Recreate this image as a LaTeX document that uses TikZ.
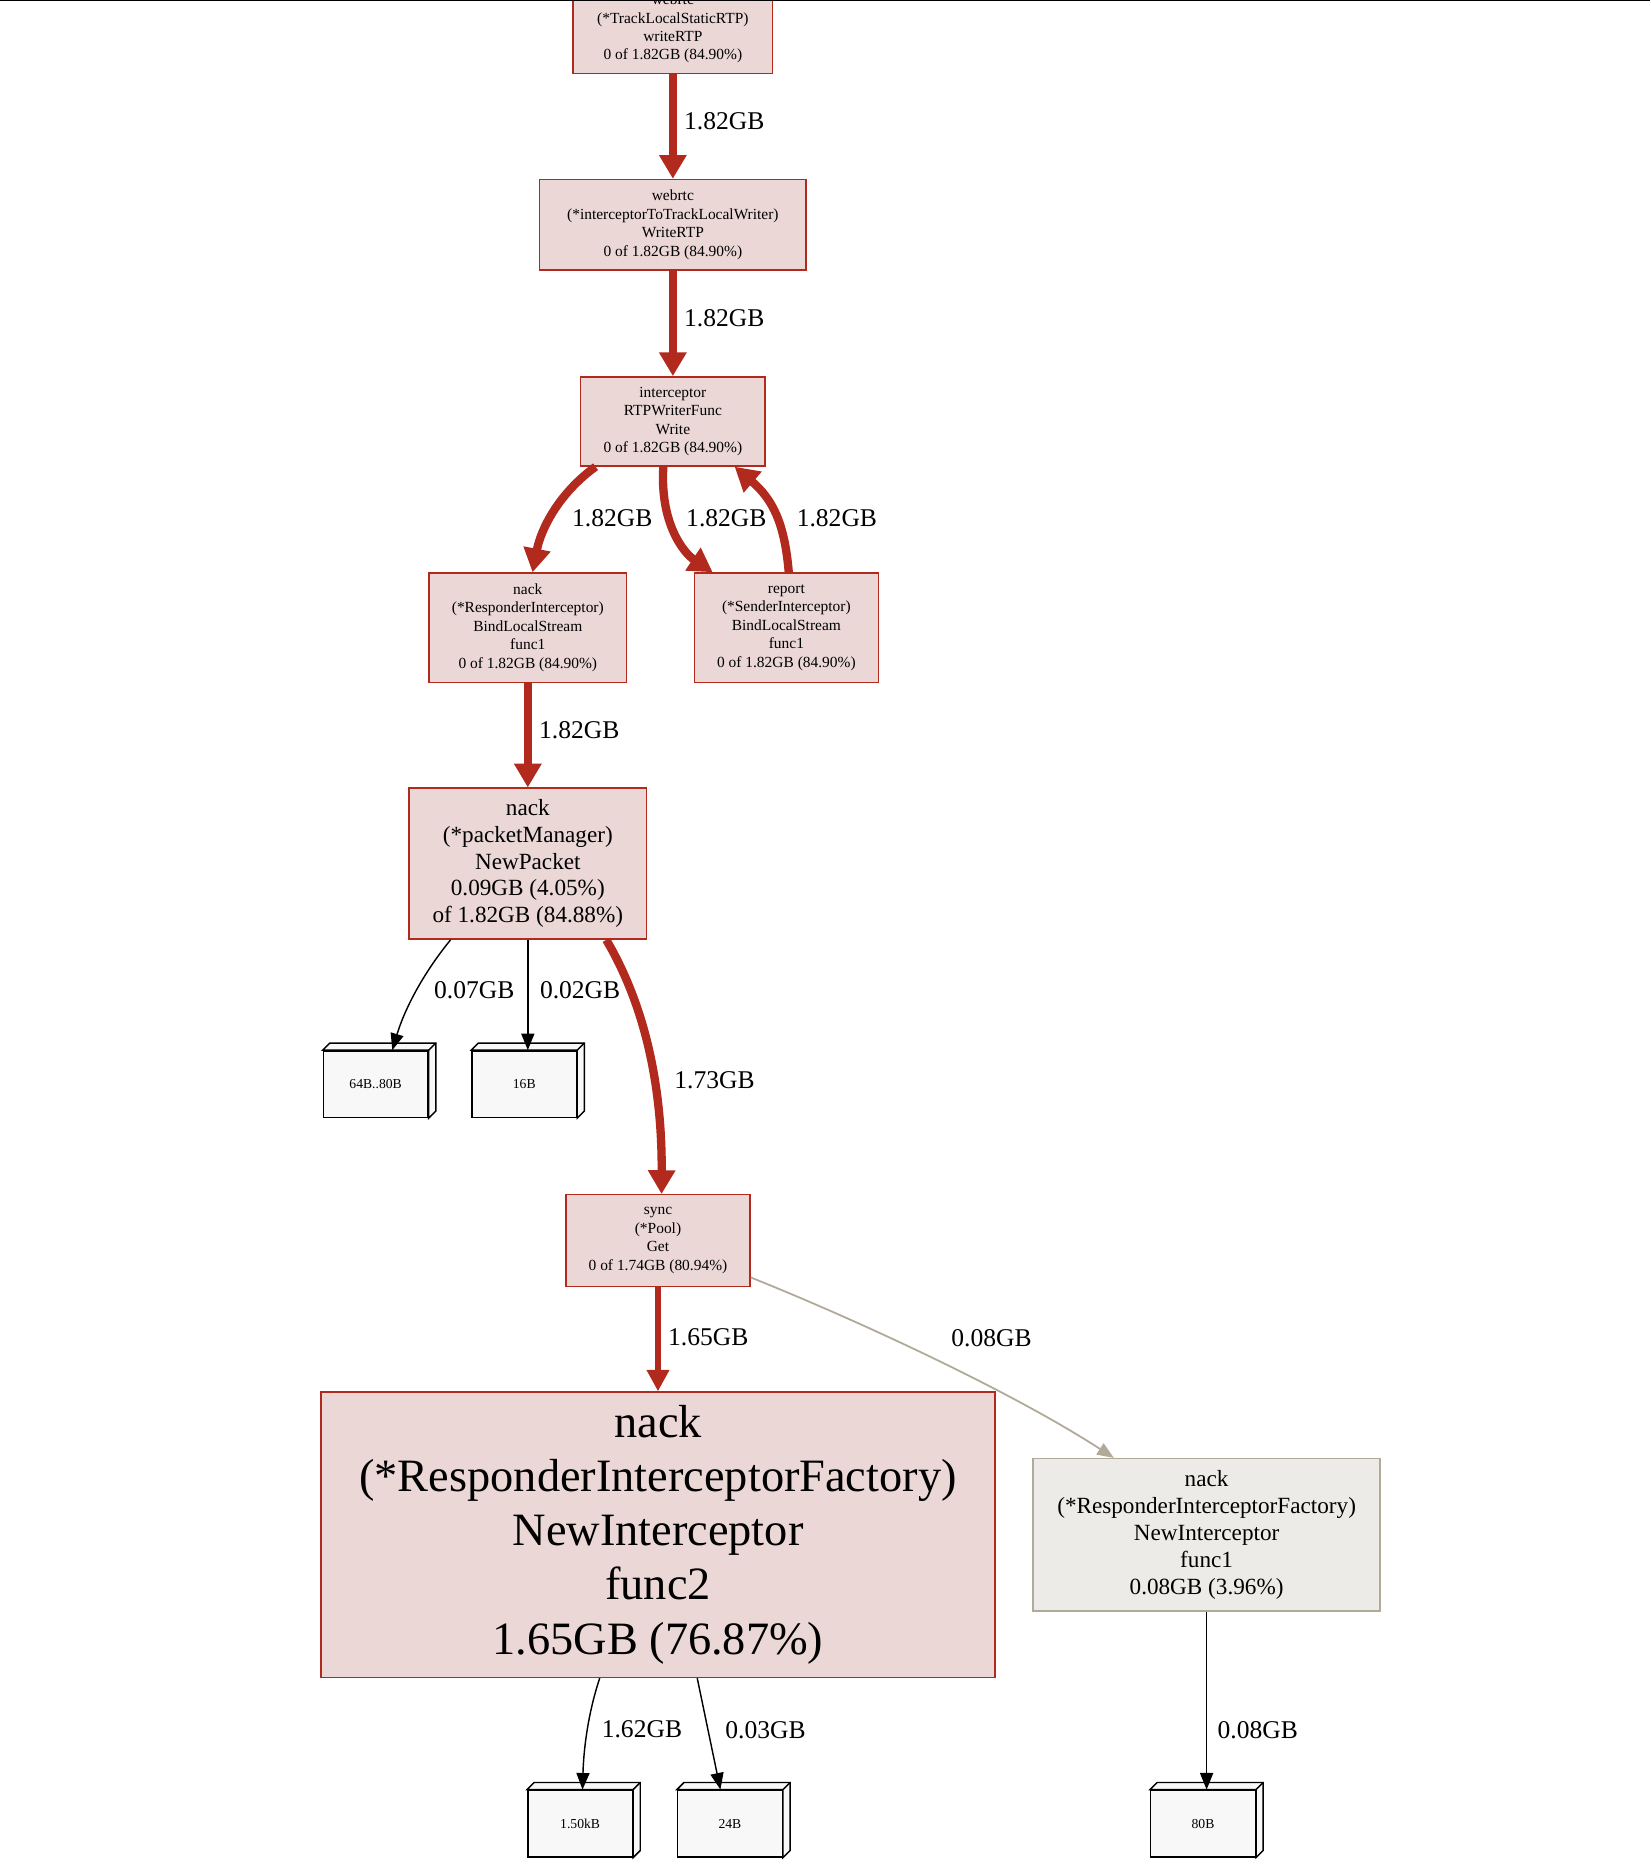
\documentclass[tikz,border=0pt]{standalone}
\usepackage{fontspec}
\setmainfont{Liberation Serif}
\usetikzlibrary{arrows.meta}
\definecolor{rfill}{HTML}{EAD7D6}
\definecolor{rline}{HTML}{B2291D}
\definecolor{gfill}{HTML}{EDEBE7}
\definecolor{gline}{HTML}{B2AA99}
\definecolor{bfill}{HTML}{F8F8F8}
\tikzset{
  fn/.style={draw=rline,fill=rfill,line width=1.2pt,inner sep=0pt,align=center,font=\fontsize{13}{15.5}\selectfont},
  gn/.style={draw=gline,fill=gfill,line width=1.2pt,inner sep=0pt,align=center,font=\fontsize{19.5}{22.8}\selectfont},
  bx/.style={draw=black,fill=bfill,line width=1.2pt,inner sep=0pt,minimum width=88pt,minimum height=56pt,font=\fontsize{11.5}{13}\selectfont},
  thick/.style={draw=rline,line width=7pt,-{Triangle[length=20pt,width=22pt]}},
  mid/.style={draw=rline,line width=5pt,-{Triangle[length=18pt,width=18pt]}},
  thin/.style={draw=black,line width=1.2pt,-{Triangle[length=14pt,width=11pt]}},
  tan/.style={draw=gline,line width=1.5pt,-{Triangle[length=14pt,width=11pt]}},
  lb/.style={font=\fontsize{21.5}{24}\selectfont,inner sep=0pt}
}
\newcommand{\cube}[1]{\draw[line width=1.2pt,fill=bfill] (#1.north west)--++(6pt,6pt)-|([xshift=6pt,yshift=6pt]#1.south east)--(#1.south east)--(#1.north east)--cycle; \draw[line width=1.2pt] (#1.north east)--++(6pt,6pt);}
\begin{document}
\begin{tikzpicture}[x=1pt,y=1pt]
\useasboundingbox (0,0) rectangle (1388,-1568);
\fill[white] (0,0) rectangle (1388,-1568);
\begin{scope}
\clip (0,0) rectangle (1388,-1568);
\node[fn,minimum width=168pt,minimum height=76pt] (a) at (566,-24) {webrtc\\(*TrackLocalStaticRTP)\\writeRTP\\0 of 1.82GB (84.90\%)};
\end{scope}
\draw[line width=1.2pt] (0,0)--(1388,0);
\node[fn,minimum width=224pt,minimum height=76pt] (b) at (566,-189) {webrtc\\(*interceptorToTrackLocalWriter)\\WriteRTP\\0 of 1.82GB (84.90\%)};
\node[fn,minimum width=155pt,minimum height=75pt] (c) at (566,-354.5) {interceptor\\RTPWriterFunc\\Write\\0 of 1.82GB (84.90\%)};
\node[fn,minimum width=166pt,minimum height=92pt] (d) at (444,-528) {nack\\(*ResponderInterceptor)\\BindLocalStream\\func1\\0 of 1.82GB (84.90\%)};
\node[fn,minimum width=155pt,minimum height=92pt] (e) at (661.5,-528) {report\\(*SenderInterceptor)\\BindLocalStream\\func1\\0 of 1.82GB (84.90\%)};
\node[fn,minimum width=200pt,minimum height=127pt,font=\fontsize{19.5}{22.5}\selectfont] (f) at (444,-726.5) {nack\\(*packetManager)\\NewPacket\\0.09GB (4.05\%)\\of 1.82GB (84.88\%)};
\node[bx] (g) at (316,-912) {64B..80B};
\node[bx] (h) at (441,-912) {16B};
\cube{g}\cube{h}
\node[fn,minimum width=155pt,minimum height=77pt] (i) at (553.5,-1043.5) {sync\\(*Pool)\\Get\\0 of 1.74GB (80.94\%)};
\node[fn,minimum width=567pt,minimum height=240pt,font=\fontsize{39}{45.5}\selectfont] (j) at (553.5,-1291) {nack\\(*ResponderInterceptorFactory)\\NewInterceptor\\func2\\1.65GB (76.87\%)};
\node[gn,minimum width=292pt,minimum height=128pt] (k) at (1015,-1291) {nack\\(*ResponderInterceptorFactory)\\NewInterceptor\\func1\\0.08GB (3.96\%)};
\node[bx] (l) at (488,-1534) {1.50kB};
\node[bx] (m) at (614,-1534) {24B};
\node[bx] (n) at (1012,-1534) {80B};
\cube{l}\cube{m}\cube{n}
% edges
\draw[thick] (a.south) -- (b.north) node[lb,pos=0.45,right=6pt]{1.82GB};
\draw[thick] (b.south) -- (c.north) node[lb,pos=0.45,right=6pt]{1.82GB};
\draw[thick] ([xshift=-65pt]c.south) .. controls (470,-415) and (455,-445) .. ([xshift=4pt]d.north);
\draw[thick] ([xshift=-8pt]c.south) .. controls (555,-440) and (575,-465) .. ([xshift=-62pt]e.north);
\draw[thick] ([xshift=2pt]e.north) .. controls (660,-440) and (650,-420) .. ([xshift=52pt]c.south);
\node[lb] (l1) at (515,-436) {1.82GB};
\node[lb] (l2) at (611,-436) {1.82GB};
\node[lb] (l3) at (704,-436) {1.82GB};
\draw[thick] (d.south) -- (f.north) node[lb,pos=0.45,right=6pt]{1.82GB};
\draw[thin] ([xshift=-65pt]f.south) .. controls (355,-820) and (340,-850) .. ([xshift=14pt]g.north);
\node[lb] (l4) at (399,-833) {0.07GB};
\draw[thin] (f.south) -- ([xshift=3pt]h.north);
\node[lb] (l5) at (488,-833) {0.02GB};
\draw[thick] ([xshift=66pt]f.south) .. controls (545,-850) and (557,-920) .. ([xshift=3pt]i.north);
\node[lb] (l6) at (601,-909) {1.73GB};
\draw[mid] (i.south) -- (j.north) node[lb,pos=0.48,right=6pt]{1.65GB};
\draw[tan] ([yshift=8pt]i.south east) .. controls (720,-1110) and (850,-1170) .. ([xshift=-78pt]k.north);
\node[lb] (l7) at (834,-1126) {0.08GB};
\draw[thin] ([xshift=-49pt]j.south) .. controls (495,-1440) and (491,-1470) .. ([xshift=2pt]l.north);
\node[lb] (l8) at (540,-1455) {1.62GB};
\draw[thin] ([xshift=33pt]j.south) -- ([xshift=-8pt]m.north);
\node[lb] (l9) at (644,-1455) {0.03GB};
\draw[thin] (k.south) -- ([xshift=3pt]n.north);
\node[lb] (l10) at (1058,-1455) {0.08GB};
\end{tikzpicture}
\end{document}
